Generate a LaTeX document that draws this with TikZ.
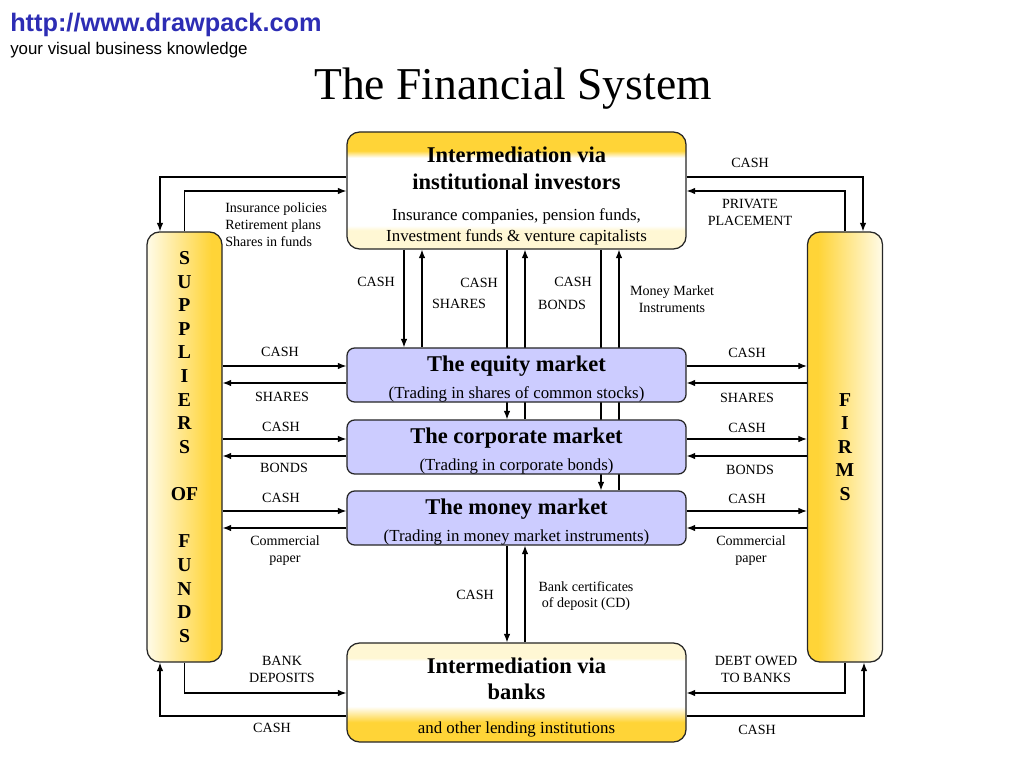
\documentclass[tikz,border=0pt]{standalone}
\usepackage{fontspec}
\setmainfont{Liberation Serif}
\newfontfamily\headfont{Liberation Sans}
\usepackage{xcolor}
\definecolor{gold}{RGB}{255,212,55}
\definecolor{palegold}{RGB}{255,247,212}
\definecolor{sidepale}{RGB}{255,251,232}
\definecolor{lavender}{RGB}{204,204,255}
\definecolor{webblue}{RGB}{45,45,180}
\usepackage{tikz}
\usetikzlibrary{arrows.meta,backgrounds}

\pgfdeclareverticalshading{instshade}{100bp}{color(0bp)=(palegold); color(33bp)=(palegold); color(35bp)=(white); color(64bp)=(white); color(67bp)=(gold); color(100bp)=(gold)}
\pgfdeclareverticalshading{bankshade}{100bp}{color(0bp)=(gold); color(35bp)=(gold); color(43bp)=(white); color(66bp)=(white); color(67.5bp)=(palegold); color(100bp)=(palegold)}
\pgfdeclarehorizontalshading{supshade}{100bp}{color(0bp)=(sidepale); color(25bp)=(sidepale); color(68bp)=(gold); color(100bp)=(gold)}
\pgfdeclarehorizontalshading{firmshade}{100bp}{color(0bp)=(gold); color(32bp)=(gold); color(75bp)=(sidepale); color(100bp)=(sidepale)}

\tikzset{
  mkt_box/.style={rectangle,rounded corners=5.5pt,
    draw=black!85,line width=0.9pt,fill=lavender,
    minimum width=8.475cm,minimum height=1.35cm,
    inner sep=0pt,align=center,
    font=\fontsize{12}{14}\selectfont},
  inst_box/.style={rectangle,rounded corners=9pt,
    draw=black!85,line width=0.9pt,shading=instshade,
    minimum width=8.475cm,minimum height=2.925cm,
    inner sep=0pt,align=center,
    font=\fontsize{12}{15}\selectfont},
  bank_box/.style={inst_box,shading=bankshade,
    minimum height=2.475cm},
  side_box/.style={rectangle,rounded corners=9pt,
    draw=black!85,line width=0.9pt,
    minimum width=1.875cm,minimum height=10.75cm,
    inner sep=0pt,align=center,
    font=\fontsize{14}{16.8}\selectfont\bfseries},
  lbl/.style={inner sep=0pt,align=center,
    font=\fontsize{10}{12}\selectfont},
  arr/.style={-{Latex[length=6pt,width=4.6pt]},line width=0.75pt},
}

\begin{document}
\begin{tikzpicture}[x=0.025cm,y=-0.025cm]
  \useasboundingbox (0,0) rectangle (1024,768);

  % --- Header and title ---
  \node[anchor=base west,inner sep=0pt,text=webblue,
        font=\headfont\fontsize{18}{20}\selectfont\bfseries] (url) at (10,32)
    {http://www.drawpack.com};
  \node[anchor=base west,inner sep=0pt,
        font=\headfont\fontsize{12}{14}\selectfont] (slogan) at (10,55)
    {your visual business knowledge};
  \node[anchor=base,inner sep=0pt] (title) at (513,100)
    {\fontsize{32.4}{36}\selectfont The Financial System};

  % --- Institutions (top and bottom) ---
  \node (inst) [inst_box] at (516.5,190.5)
    {{\fontsize{16}{19}\selectfont\bfseries\rule{0pt}{18.6pt}Intermediation via}\\[4pt]
     {\fontsize{16}{19}\selectfont\bfseries institutional investors}\\[7pt]
     Insurance companies, pension funds,\\
     Investment funds \& venture capitalists};
  \node (banks) [bank_box] at (516.5,692.5)
    {{\fontsize{16}{19}\selectfont\bfseries\rule{0pt}{17.9pt}Intermediation via}\\[4pt]
     {\fontsize{16}{19}\selectfont\bfseries banks}\\[9pt]
     and other lending institutions};

  % --- Markets ---
  \node (equity) [mkt_box] at (516.5,375)
    {{\fontsize{16}{19}\selectfont\bfseries\rule{0pt}{16.5pt}The equity market}\\[5pt]
     (Trading in shares of common stocks)};
  \node (corp) [mkt_box] at (516.5,447)
    {{\fontsize{16}{19}\selectfont\bfseries\rule{0pt}{16.5pt}The corporate market}\\[5pt]
     (Trading in corporate bonds)};
  \node (money) [mkt_box] at (516.5,518)
    {{\fontsize{16}{19}\selectfont\bfseries\rule{0pt}{16.5pt}The money market}\\[5pt]
     (Trading in money market instruments)};

  % --- Suppliers and firms ---
  \node (sup) [side_box,shading=supshade] at (184.5,447)
    {S\\U\\P\\P\\L\\I\\E\\R\\S\\\mbox{}\\OF\\\mbox{}\\F\\U\\N\\D\\S};
  \node (firms) [side_box,shading=firmshade] at (845,447)
    {F\\I\\R\\M\\S};

  % --- Connectors ---
  \begin{pgfonlayer}{background}
    % institutional investors <-> suppliers / firms
    \draw[arr] (inst.west |- 0,177) -| (sup.north -| 160,0);
    \draw[arr] (sup.north) |- (inst.west |- 0,191);
    \draw[arr] (inst.east |- 0,177) -| (firms.north -| 863,0);
    \draw[arr] (firms.north) |- (inst.east |- 0,191);
    % institutional investors <-> markets
    \draw[arr] (inst.south -| 404,0) -- (equity.north -| 404,0);
    \draw[arr] (equity.north -| 422,0) -- (inst.south -| 422,0);
    \draw[arr] (inst.south -| 507,0) -- (corp.north -| 507,0);
    \draw[arr] (corp.north -| 525,0) -- (inst.south -| 525,0);
    \draw[arr] (inst.south -| 601,0) -- (money.north -| 601,0);
    \draw[arr] (money.north -| 619,0) -- (inst.south -| 619,0);
    % money market <-> banks
    \draw[arr] (money.south -| 507,0) -- (banks.north -| 507,0);
    \draw[arr] (banks.north -| 525,0) -- (money.south -| 525,0);
    % suppliers <-> markets
    \draw[arr] (sup.east |- 0,366) -- (equity.west |- 0,366);
    \draw[arr] (equity.west |- 0,383) -- (sup.east |- 0,383);
    \draw[arr] (sup.east |- 0,439) -- (corp.west |- 0,439);
    \draw[arr] (corp.west |- 0,456) -- (sup.east |- 0,456);
    \draw[arr] (sup.east |- 0,511) -- (money.west |- 0,511);
    \draw[arr] (money.west |- 0,528) -- (sup.east |- 0,528);
    % markets <-> firms
    \draw[arr] (equity.east |- 0,366) -- (firms.west |- 0,366);
    \draw[arr] (firms.west |- 0,383) -- (equity.east |- 0,383);
    \draw[arr] (corp.east |- 0,439) -- (firms.west |- 0,439);
    \draw[arr] (firms.west |- 0,456) -- (corp.east |- 0,456);
    \draw[arr] (money.east |- 0,511) -- (firms.west |- 0,511);
    \draw[arr] (firms.west |- 0,528) -- (money.east |- 0,528);
    % banks <-> suppliers / firms
    \draw[arr] (sup.south) |- (banks.west |- 0,693);
    \draw[arr] (banks.west |- 0,716) -| (sup.south -| 160,0);
    \draw[arr] (firms.south) |- (banks.east |- 0,693);
    \draw[arr] (banks.east |- 0,716) -| (firms.south -| 864,0);
  \end{pgfonlayer}

  % --- Labels ---
  \node[lbl,anchor=west,align=left] (l_pol) at (225,225)
    {Insurance policies\\Retirement plans\\Shares in funds};
  \node[lbl] (l_ppcash) at (750,163) {CASH};
  \node[lbl] (l_pp) at (750,212) {PRIVATE\\PLACEMENT};
  \node[lbl] (l_c1) at (376,282) {CASH};
  \node[lbl] (l_c2) at (479,283) {CASH};
  \node[lbl] (l_sh) at (459,304) {SHARES};
  \node[lbl] (l_c3) at (573,282) {CASH};
  \node[lbl] (l_bo) at (562,305) {BONDS};
  \node[lbl] (l_mmi) at (672,299) {Money Market\\Instruments};

  \node[lbl] (l_sc1) at (280,352) {CASH};
  \node[lbl] (l_ssh) at (282,397) {SHARES};
  \node[lbl] (l_sc2) at (281,427) {CASH};
  \node[lbl] (l_sbo) at (284,468) {BONDS};
  \node[lbl] (l_sc3) at (281,498) {CASH};
  \node[lbl] (l_scp) at (285,551) {Commercial\\paper};

  \node[lbl] (l_fc1) at (747,353) {CASH};
  \node[lbl] (l_fsh) at (747,398) {SHARES};
  \node[lbl] (l_fc2) at (747,428) {CASH};
  \node[lbl] (l_fbo) at (750,470) {BONDS};
  \node[lbl] (l_fc3) at (747,499) {CASH};
  \node[lbl] (l_fcp) at (751,551) {Commercial\\paper};

  \node[lbl] (l_bc) at (475,595) {CASH};
  \node[lbl] (l_cd) at (586,596) {Bank certificates\\of deposit (CD)};
  \node[lbl] (l_dep) at (282,669) {BANK\\DEPOSITS};
  \node[lbl] (l_bc2) at (272,728) {CASH};
  \node[lbl] (l_debt) at (756,669) {DEBT OWED\\TO BANKS};
  \node[lbl] (l_bc3) at (757,730) {CASH};
\end{tikzpicture}
\end{document}
